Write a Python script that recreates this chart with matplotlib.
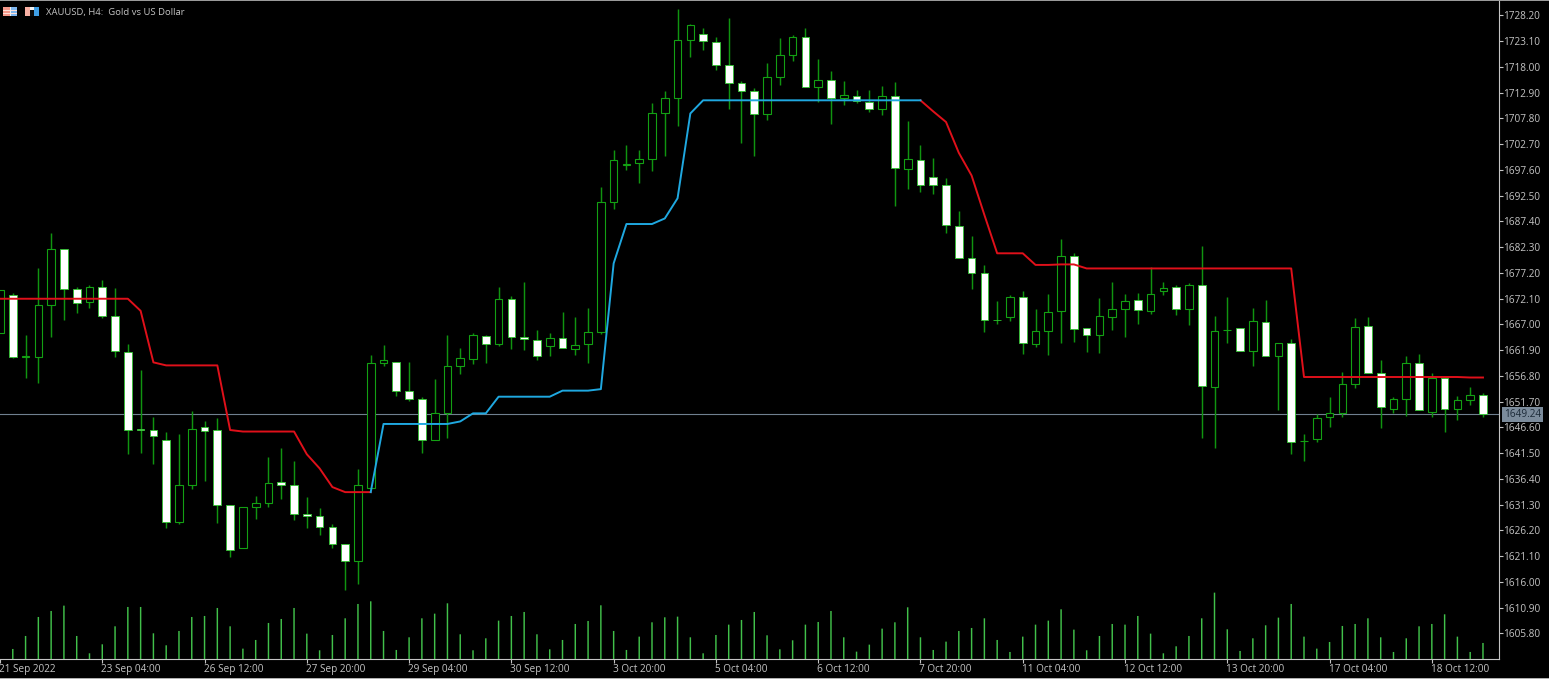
import numpy as np
import matplotlib.pyplot as plt
from matplotlib.patches import Rectangle
from matplotlib.transforms import ScaledTranslation

plt.rcParams["font.family"] = ["Open Sans", "DejaVu Sans"]

# bar numbers, the first candle is cut by the left edge
first_bar = -1

opens = [1665.3, 1672.9, 1660.6, 1660.6, 1670.8, 1681.9, 1674.0, 1671.5, 1674.4, 1668.6,
         1661.5, 1646.3, 1646.2, 1644.1, 1627.8, 1635.3, 1646.6, 1646.2, 1631.3, 1622.8,
         1630.8, 1631.7, 1635.9, 1635.3, 1629.5, 1629.0, 1626.8, 1623.5, 1620.2, 1634.7,
         1659.3, 1659.6, 1653.9, 1652.3, 1644.1, 1649.4, 1658.8, 1660.2, 1664.8, 1663.1,
         1672.1, 1664.5, 1664.0, 1662.7, 1664.3, 1662.2, 1663.1, 1665.6, 1691.2, 1698.5,
         1698.9, 1699.7, 1708.8, 1711.9, 1723.3, 1724.5, 1723.0, 1718.4, 1714.8, 1713.3,
         1708.6, 1716.0, 1720.3, 1724.0, 1714.1, 1715.4, 1711.9, 1712.2, 1711.1, 1709.6,
         1712.3, 1697.7, 1699.6, 1696.3, 1694.7, 1686.6, 1680.2, 1677.2, 1667.9, 1668.5,
         1672.4, 1663.2, 1665.8, 1669.6, 1680.6, 1666.4, 1665.0, 1668.4, 1670.0, 1671.8,
         1669.7, 1673.6, 1674.4, 1670.0, 1674.8, 1654.6, 1665.9, 1666.4, 1661.8, 1667.5,
         1660.7, 1663.4, 1643.9, 1644.4, 1648.6, 1649.4, 1655.3, 1666.8, 1657.4, 1650.2,
         1652.3, 1659.4, 1649.7, 1656.4, 1650.2, 1652.0, 1653.1]
closes = [1673.8, 1660.6, 1660.7, 1670.9, 1681.9, 1674.0, 1671.2, 1674.4, 1668.6, 1661.7,
          1646.2, 1646.1, 1644.9, 1627.8, 1635.3, 1646.4, 1646.0, 1631.3, 1622.4, 1630.8,
          1631.7, 1635.7, 1635.3, 1629.5, 1629.0, 1626.8, 1623.5, 1620.2, 1635.2, 1659.3,
          1659.9, 1653.9, 1652.3, 1644.2, 1649.4, 1658.8, 1660.4, 1664.9, 1663.1, 1672.0,
          1664.5, 1664.1, 1660.7, 1664.3, 1662.3, 1662.9, 1665.6, 1691.2, 1699.5, 1698.7,
          1699.7, 1708.8, 1711.9, 1723.3, 1726.3, 1723.1, 1718.4, 1714.8, 1713.3, 1708.6,
          1716.1, 1720.3, 1724.0, 1714.1, 1715.5, 1711.9, 1712.4, 1711.2, 1709.6, 1712.3,
          1697.9, 1699.8, 1694.6, 1694.6, 1686.7, 1680.2, 1677.2, 1667.8, 1667.8, 1672.4,
          1663.3, 1665.8, 1669.5, 1680.6, 1666.1, 1665.0, 1668.6, 1670.1, 1671.6, 1669.8,
          1673.1, 1674.2, 1670.1, 1674.9, 1654.8, 1665.8, 1666.0, 1661.8, 1667.6, 1660.7,
          1663.4, 1643.8, 1644.0, 1648.4, 1649.4, 1655.3, 1666.6, 1657.4, 1650.6, 1652.2,
          1659.4, 1650.0, 1656.5, 1650.3, 1652.0, 1653.1, 1649.2]
highs = [1673.8, 1673.2, 1664.9, 1678.1, 1685.1, 1681.9, 1674.5, 1674.8, 1675.9, 1674.2,
         1663.1, 1658.0, 1648.6, 1645.7, 1645.4, 1649.8, 1647.9, 1648.4, 1631.3, 1630.8,
         1633.0, 1640.7, 1642.5, 1640.0, 1632.8, 1630.7, 1627.5, 1623.5, 1638.3, 1661.0,
         1662.9, 1659.6, 1659.5, 1652.7, 1656.3, 1664.9, 1662.3, 1665.4, 1664.9, 1674.4,
         1672.6, 1675.4, 1666.0, 1665.4, 1669.4, 1668.4, 1670.2, 1694.3, 1701.6, 1702.6,
         1701.6, 1710.9, 1713.3, 1729.4, 1726.5, 1725.7, 1723.9, 1727.8, 1715.2, 1713.8,
         1718.7, 1723.7, 1724.3, 1725.7, 1719.6, 1717.2, 1715.3, 1713.4, 1713.4, 1714.2,
         1715.0, 1707.4, 1702.5, 1699.9, 1696.1, 1689.5, 1684.5, 1678.8, 1671.7, 1672.8,
         1673.6, 1670.0, 1673.0, 1683.9, 1681.1, 1666.4, 1672.2, 1675.4, 1673.0, 1673.3,
         1678.3, 1675.5, 1674.8, 1675.2, 1682.6, 1668.7, 1672.5, 1666.4, 1670.2, 1671.9,
         1663.4, 1664.1, 1645.3, 1649.3, 1652.7, 1657.5, 1668.2, 1668.5, 1660.0, 1652.6,
         1660.8, 1661.1, 1657.4, 1656.7, 1652.8, 1654.6, 1653.5]
lows = [1665.3, 1660.3, 1656.5, 1655.5, 1664.6, 1667.9, 1669.2, 1670.2, 1668.2, 1660.6,
        1641.4, 1641.5, 1639.4, 1626.6, 1627.4, 1634.5, 1636.1, 1627.6, 1620.9, 1622.8,
        1628.5, 1630.9, 1632.4, 1628.3, 1626.6, 1625.3, 1622.7, 1614.5, 1615.7, 1634.7,
        1658.7, 1652.8, 1651.8, 1641.5, 1644.1, 1644.5, 1657.1, 1659.1, 1659.3, 1662.7,
        1662.1, 1662.0, 1660.0, 1660.8, 1662.3, 1660.9, 1659.4, 1665.2, 1689.8, 1697.5,
        1695.0, 1697.4, 1700.4, 1706.3, 1719.9, 1721.4, 1717.4, 1709.7, 1703.0, 1700.4,
        1707.6, 1714.4, 1719.2, 1714.1, 1711.1, 1706.8, 1710.5, 1710.8, 1709.1, 1708.4,
        1690.5, 1693.8, 1693.3, 1692.8, 1685.1, 1680.2, 1674.0, 1665.6, 1667.0, 1667.6,
        1661.2, 1662.6, 1661.0, 1663.3, 1663.6, 1661.6, 1661.3, 1665.9, 1664.6, 1667.1,
        1669.1, 1672.9, 1668.9, 1666.9, 1644.6, 1642.5, 1663.4, 1661.8, 1658.8, 1660.7,
        1650.1, 1641.4, 1640.0, 1643.7, 1646.6, 1648.6, 1654.4, 1657.4, 1646.5, 1649.5,
        1648.9, 1650.0, 1648.6, 1645.7, 1648.1, 1651.0, 1648.6]

# tick volume, in arbitrary units. first bar has none visible
volumes = [0, 31, 70, 127, 145, 161, 70, 18, 45, 99,
           157, 157, 78, 42, 85, 127, 130, 154, 99, 32,
           58, 109, 121, 154, 77, 27, 73, 123, 166, 174,
           85, 28, 66, 123, 137, 168, 75, 27, 63, 116,
           130, 142, 75, 30, 58, 106, 115, 162, 85, 28,
           68, 111, 126, 128, 66, 18, 73, 104, 118, 142,
           72, 30, 57, 104, 112, 145, 66, 23, 44, 92,
           111, 156, 66, 28, 53, 85, 94, 123, 58, 22,
           68, 104, 116, 150, 89, 27, 70, 106, 104, 130,
           77, 18, 39, 70, 123, 200, 90, 25, 63, 102,
           125, 166, 68, 32, 52, 100, 106, 123, 66, 22,
           63, 99, 106, 135, 68, 22, 49]

trend = [1672.1, 1672.1, 1672.1, 1672.1, 1672.1, 1672.1, 1672.1, 1672.1, 1672.1, 1672.1,
         1672.1, 1669.7, 1659.5, 1658.9, 1658.9, 1658.9, 1658.9, 1658.9, 1646.1, 1645.8,
         1645.8, 1645.8, 1645.8, 1645.8, 1641.3, 1638.5, 1634.8, 1633.8, 1633.8, 1633.8,
         1647.3, 1647.3, 1647.3, 1647.3, 1647.3, 1647.3, 1647.8, 1649.4, 1649.4, 1652.7,
         1652.7, 1652.7, 1652.7, 1652.7, 1653.9, 1653.9, 1653.9, 1654.2, 1679.1, 1686.9,
         1686.9, 1686.9, 1688.0, 1692.0, 1708.8, 1711.4, 1711.4, 1711.4, 1711.4, 1711.4,
         1711.4, 1711.4, 1711.4, 1711.4, 1711.4, 1711.4, 1711.4, 1711.4, 1711.4, 1711.4,
         1711.4, 1711.4, 1711.4, 1709.2, 1707.1, 1701.0, 1696.5, 1688.7, 1681.1, 1681.1,
         1681.1, 1678.8, 1678.8, 1678.9, 1678.9, 1678.1, 1678.1, 1678.1, 1678.1, 1678.1,
         1678.1, 1678.1, 1678.1, 1678.1, 1678.1, 1678.1, 1678.1, 1678.1, 1678.1, 1678.1,
         1678.1, 1678.1, 1656.6, 1656.6, 1656.6, 1656.6, 1656.6, 1656.6, 1656.6, 1656.6,
         1656.6, 1656.6, 1656.6, 1656.6, 1656.6, 1656.5, 1656.5]
# the line is blue between these two bars, red elsewhere
blue_from = 28
blue_to = 71

last_price = 1649.24

price_ticks = [1728.20, 1723.10, 1718.00, 1712.90, 1707.80, 1702.70, 1697.60, 1692.50, 1687.40,
               1682.30, 1677.20, 1672.10, 1667.00, 1661.90, 1656.80, 1651.70, 1646.60, 1641.50,
               1636.40, 1631.30, 1626.20, 1621.10, 1616.00, 1610.90, 1605.80]
time_bars = [-1, 7, 15, 23, 31, 39, 47, 55, 63, 71, 79, 87, 95, 103, 111]
time_labels = ["21 Sep 2022", "23 Sep 04:00", "26 Sep 12:00", "27 Sep 20:00", "29 Sep 04:00",
               "30 Sep 12:00", "3 Oct 20:00", "5 Oct 04:00", "6 Oct 12:00", "7 Oct 20:00",
               "11 Oct 04:00", "12 Oct 12:00", "13 Oct 20:00", "17 Oct 04:00", "18 Oct 12:00"]

W, H = 1549, 679
TEXT = "#c4c4c4"
WICK = "#109410"
EDGE = "#13a013"
VOL = "#41c04a"

bars = np.arange(first_bar, first_bar + len(opens))
opens = np.array(opens)
closes = np.array(closes)
trend = np.array(trend)

fig = plt.figure(figsize=(W / 100, H / 100), dpi=100, facecolor="black")
ax = fig.add_axes([0, (H - 659.3) / H, 1498.7 / W, 658.3 / H], facecolor="black")
ax_vol = ax.twinx()
ax_vol.set_zorder(0)
ax.set_zorder(1)
ax.patch.set_visible(False)
ax_vol.patch.set_facecolor("black")
ax_vol.patch.set_visible(True)

# volume lives in the same panel, at the bottom
vol_lines = ax_vol.vlines(bars, 0, volumes, color=VOL, linewidth=1.05)
vol_lines.set_snap(False)
ax_vol.set_ylim(0, 1975)
ax_vol.set_yticks([])

ax.axhline(last_price, color="#708090", linewidth=0.8, zorder=1)

# candles
ax.vlines(bars, lows, highs, color=WICK, linewidth=1.05, zorder=2)
bull = closes >= opens
# hollow bull bodies, white bear bodies
ax.bar(bars[bull], (closes - opens)[bull], bottom=opens[bull], width=0.6,
       facecolor="black", edgecolor=EDGE, linewidth=0.8, zorder=3)
ax.bar(bars[~bull], (closes - opens)[~bull], bottom=opens[~bull], width=0.6,
       facecolor="white", edgecolor="#2fc42f", linewidth=0.6, zorder=3)

# trend line
is_blue = (bars >= blue_from) & (bars <= blue_to)
is_red = (bars <= blue_from) | (bars >= blue_to)
ax.plot(bars, np.where(is_red, trend, np.nan), color="#e0101a", linewidth=1.4, zorder=4)
ax.plot(bars, np.where(is_blue, trend, np.nan), color="#1fa8e0", linewidth=1.4, zorder=4)

ax.set_xlim(-0.859, 116.23)
ax.set_ylim(1600.69, 1731.07)

for side in ["left", "top"]:
    ax.spines[side].set_visible(False)
    ax_vol.spines[side].set_visible(False)
for side in ["right", "bottom"]:
    ax.spines[side].set_color(TEXT)
    ax.spines[side].set_linewidth(0.8)
    ax_vol.spines[side].set_visible(False)

ax.yaxis.tick_right()
ax.set_yticks(price_ticks)
ax.set_yticklabels([f"{p:.2f}" for p in price_ticks])
ax.tick_params(axis="y", colors=TEXT, length=3, width=0.8, pad=0.5, labelsize=7.2)
ax.set_xticks(time_bars)
ax.set_xticklabels(time_labels, ha="left")
ax.tick_params(axis="x", colors=TEXT, length=3, width=0.8, pad=0.3, labelsize=7.2)

# labels start a pixel further left than the tick
nudge = ScaledTranslation(-1 / 100, 0, fig.dpi_scale_trans)
for label in ax.get_xticklabels():
    label.set_transform(label.get_transform() + nudge)

# last price tag
fig.text(1522.5 / W, 1 - 414.5 / H, f"{last_price:.2f}", color="#1c2a38", fontsize=7.2,
         ha="center", va="center",
         bbox=dict(facecolor="#7b8b9b", edgecolor="none", pad=1.4), zorder=6)

# chart header
fig.text(46 / W, 1 - 12.2 / H, "XAUUSD, H4:  Gold vs US Dollar", color=TEXT, fontsize=6.8,
         ha="left", va="center")

def px_rect(x, y, w, h, color):
    fig.add_artist(Rectangle((x / W, 1 - (y + h) / H), w / W, h / H, facecolor=color,
                             edgecolor="none", transform=fig.transFigure))

# little toolbar icons next to the header
px_rect(3, 7, 7, 9, "#f59a8c")
px_rect(10, 7, 7, 9, "#7fb6ee")
for yy in [9.5, 12.5]:
    px_rect(3, yy, 14, 1, "#ffe0d8")
px_rect(9.5, 7, 1, 9, "#f0f0f0")
px_rect(25, 7, 7, 9, "#f8b0a4")
px_rect(32, 7, 7, 9, "#3f9fe6")
px_rect(30, 10, 4, 6, "#0c0c0c")
px_rect(30, 7, 4, 3, "#f0f0f0")

# grey frame rows of the window
px_rect(0, 0, W, 1, "#9a9a9a")
px_rect(0, 677.7, W, 1.3, "#b0b0b0")

fig.savefig("out.png", dpi=100, facecolor="black")
